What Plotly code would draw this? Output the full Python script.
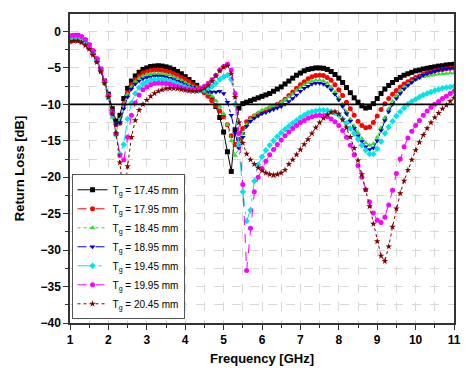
import plotly.graph_objects as go

freq = [round(1.0 + 0.1 * i, 1) for i in range(101)]

tg_labels = ["17.45", "17.95", "18.45", "18.95", "19.45", "19.95", "20.45"]

rl_1745 = [-1.0, -0.9, -0.9, -1.1, -1.5, -2.1, -2.9, -3.9, -5.2, -6.8,
           -8.6, -10.6, -12.3, -11.5, -9.2, -7.8, -6.8, -6.1, -5.6, -5.2,
           -5.0, -4.8, -4.75, -4.7, -4.75, -4.85, -5.0, -5.2, -5.5, -5.8,
           -6.2, -6.6, -7.0, -7.4, -7.8, -8.2, -8.7, -9.3, -10.3, -11.8,
           -13.8, -16.5, -19.2, -13.5, -10.5, -9.9, -9.7, -9.5, -9.3, -9.1,
           -8.9, -8.7, -8.5, -8.2, -7.9, -7.6, -7.2, -6.8, -6.4, -6.0,
           -5.7, -5.4, -5.2, -5.1, -5.0, -5.0, -5.05, -5.2, -5.5, -5.9,
           -6.4, -7.0, -7.7, -8.4, -9.1, -9.7, -10.2, -10.5, -10.4, -9.9,
           -9.2, -8.5, -7.9, -7.4, -7.0, -6.6, -6.3, -6.0, -5.8, -5.6,
           -5.4, -5.3, -5.15, -5.05, -4.95, -4.85, -4.75, -4.7, -4.6, -4.55,
           -4.5]

rl_1795 = [-1.3, -1.2, -1.2, -1.4, -1.7, -2.3, -3.1, -4.1, -5.4, -7.0,
           -8.8, -10.9, -12.8, -12.6, -10.0, -8.4, -7.3, -6.6, -6.1, -5.7,
           -5.5, -5.35, -5.3, -5.3, -5.35, -5.45, -5.6, -5.8, -6.0, -6.3,
           -6.6, -6.9, -7.3, -7.6, -8.0, -8.4, -8.9, -9.5, -10.2, -10.9,
           -11.7, -12.8, -14.3, -15.5, -14.8, -13.3, -12.4, -11.9, -11.6, -11.3,
           -11.0, -10.8, -10.5, -10.3, -10.0, -9.7, -9.3, -8.8, -8.3, -7.8,
           -7.3, -6.9, -6.5, -6.2, -6.05, -6.0, -6.05, -6.3, -6.7, -7.3,
           -8.0, -8.8, -9.7, -10.6, -11.5, -12.3, -12.9, -13.2, -13.1, -12.5,
           -11.6, -10.7, -9.9, -9.2, -8.6, -8.1, -7.6, -7.2, -6.9, -6.6,
           -6.3, -6.1, -5.9, -5.7, -5.55, -5.4, -5.3, -5.2, -5.1, -5.05,
           -5.0]

rl_1845 = [-1.0, -0.9, -0.9, -1.1, -1.5, -2.1, -2.9, -4.0, -5.4, -7.1,
           -9.2, -11.8, -13.8, -12.2, -10.0, -8.6, -7.6, -6.9, -6.4, -6.1,
           -5.9, -5.8, -5.75, -5.75, -5.8, -5.9, -6.0, -6.2, -6.4, -6.7,
           -7.0, -7.3, -7.6, -7.8, -8.0, -8.2, -8.5, -8.9, -9.5, -10.3,
           -11.3, -12.8, -15.0, -17.0, -16.0, -14.0, -12.8, -12.0, -11.5, -11.1,
           -10.8, -10.6, -10.4, -10.2, -10.0, -9.7, -9.4, -9.0, -8.6, -8.1,
           -7.7, -7.3, -7.0, -6.8, -6.7, -6.7, -6.8, -7.1, -7.6, -8.3,
           -9.1, -10.0, -11.0, -12.0, -13.0, -13.9, -14.7, -15.3, -15.6, -15.4,
           -14.5, -13.2, -11.8, -10.6, -9.6, -8.8, -8.1, -7.6, -7.2, -6.9,
           -6.6, -6.4, -6.2, -6.1, -6.0, -5.9, -5.85, -5.8, -5.75, -5.7,
           -5.7]

rl_1895 = [-0.5, -0.4, -0.4, -0.7, -1.1, -1.8, -2.7, -3.8, -5.2, -6.9,
           -8.9, -11.0, -12.7, -12.5, -10.6, -9.0, -7.9, -7.2, -6.8, -6.5,
           -6.3, -6.2, -6.1, -6.1, -6.15, -6.25, -6.4, -6.6, -6.8, -7.0,
           -7.3, -7.5, -7.7, -7.9, -8.0, -8.1, -8.2, -8.3, -8.3, -8.2,
           -8.5, -9.7, -11.5, -14.0, -16.0, -14.5, -13.0, -12.3, -11.9, -11.6,
           -11.3, -11.1, -10.9, -10.7, -10.5, -10.3, -10.0, -9.6, -9.2, -8.7,
           -8.2, -7.8, -7.5, -7.2, -7.1, -7.1, -7.2, -7.5, -8.0, -8.6,
           -9.4, -10.3, -11.3, -12.3, -13.3, -14.3, -15.1, -15.8, -16.2, -16.0,
           -15.0, -13.6, -12.2, -11.0, -10.0, -9.2, -8.5, -7.9, -7.4, -7.0,
           -6.6, -6.3, -6.0, -5.8, -5.6, -5.45, -5.3, -5.2, -5.1, -5.05,
           -5.0]

rl_1945 = [-0.8, -0.7, -0.7, -0.9, -1.3, -2.0, -2.8, -3.9, -5.3, -7.0,
           -9.0, -11.4, -14.2, -16.8, -15.5, -12.0, -9.8, -8.5, -7.7, -7.2,
           -6.9, -6.7, -6.6, -6.6, -6.6, -6.7, -6.8, -7.0, -7.2, -7.4,
           -7.6, -7.8, -7.95, -8.05, -8.1, -8.0, -7.8, -7.5, -7.1, -6.6,
           -6.2, -6.0, -6.6, -10.0, -15.5, -22.0, -26.0, -24.5, -20.5, -18.3,
           -17.2, -16.3, -15.6, -15.0, -14.4, -13.9, -13.4, -13.0, -12.6, -12.2,
           -11.8, -11.5, -11.2, -11.0, -10.9, -10.8, -10.8, -10.85, -11.0, -11.2,
           -11.5, -12.0, -12.6, -13.3, -14.0, -14.8, -15.6, -16.3, -16.8, -16.8,
           -16.1, -15.1, -14.0, -13.1, -12.3, -11.6, -11.0, -10.5, -10.0, -9.6,
           -9.3, -9.0, -8.7, -8.5, -8.3, -8.1, -7.95, -7.8, -7.7, -7.6,
           -7.55]

rl_1995 = [-0.6, -0.5, -0.5, -0.7, -1.1, -1.8, -2.6, -3.7, -5.1, -6.8,
           -8.8, -11.2, -14.0, -17.0, -17.6, -14.5, -11.5, -9.8, -8.7, -8.0,
           -7.6, -7.3, -7.15, -7.1, -7.1, -7.15, -7.25, -7.4, -7.55, -7.7,
           -7.85, -7.95, -8.0, -7.95, -7.8, -7.5, -7.1, -6.6, -6.0, -5.3,
           -4.8, -4.5, -5.3, -8.5, -14.0, -21.0, -32.8, -27.0, -22.0, -20.0,
           -18.8, -17.8, -16.9, -16.2, -15.5, -14.9, -14.3, -13.8, -13.3, -12.9,
           -12.5, -12.2, -11.9, -11.7, -11.55, -11.5, -11.55, -11.7, -12.0, -12.4,
           -12.9, -13.6, -14.5, -15.6, -16.9, -18.4, -20.0, -21.7, -23.4, -24.9,
           -25.9, -26.2, -25.5, -23.8, -21.8, -19.5, -17.5, -15.8, -14.6, -13.7,
           -12.9, -12.2, -11.5, -10.9, -10.4, -10.0, -9.6, -9.2, -8.9, -8.5,
           -8.2]

rl_2045 = [-1.4, -1.3, -1.3, -1.5, -1.9, -2.4, -3.2, -4.2, -5.5, -7.1,
           -9.0, -11.3, -14.0, -18.0, -23.2, -18.5, -14.5, -12.2, -10.8, -10.0,
           -9.4, -8.9, -8.5, -8.2, -8.0, -7.85, -7.8, -7.8, -7.85, -7.95,
           -8.05, -8.15, -8.2, -8.2, -8.1, -7.8, -7.4, -6.8, -6.1, -5.4,
           -4.9, -4.7, -5.8, -9.0, -12.5, -15.3, -16.8, -17.6, -18.2, -18.7,
           -19.1, -19.4, -19.6, -19.7, -19.6, -19.4, -19.0, -18.2, -17.6, -16.9,
           -16.2, -15.5, -14.8, -14.0, -13.2, -12.5, -11.9, -11.4, -11.1, -11.0,
           -11.3, -12.1, -13.2, -14.5, -16.0, -17.7, -19.6, -21.7, -24.0, -26.4,
           -28.8, -30.8, -31.5, -29.5, -26.8, -24.3, -22.2, -20.5, -19.0, -17.6,
           -16.3, -15.2, -14.2, -13.3, -12.5, -11.8, -11.2, -10.6, -10.1, -9.6,
           -9.1]

threshold_db = -10

series = [rl_1745, rl_1795, rl_1845, rl_1895, rl_1945, rl_1995, rl_2045]
colors = ["#000000", "#ff0000", "#33dd33", "#0000cc", "#00e5e5", "#ff00ff", "#800000"]
symbols = ["square", "circle", "triangle-up", "triangle-down", "diamond", "circle", "star"]
dashes = ["solid", "dash", "dot", "dashdot", "longdashdot", "dash", "dot"]

fig = go.Figure()
for lab, ys, c, s, d in zip(tg_labels, series, colors, symbols, dashes):
    fig.add_trace(go.Scatter(
        x=freq, y=ys, mode="lines+markers",
        name=f"T<sub>g</sub> = {lab} mm",
        line=dict(color=c, width=1, dash=d),
        marker=dict(symbol=s, size=5, color=c, line=dict(width=0)),
    ))

fig.add_hline(y=threshold_db, line=dict(color="black", width=1.6))

FONT = "Liberation Sans, Arial, sans-serif"
fig.update_xaxes(
    range=[1, 11], tick0=1, dtick=1,
    showline=True, linecolor="#333", linewidth=1.5, mirror=True,
    ticks="outside", ticklen=5, tickwidth=1.2, tickcolor="#333",
    showgrid=True, gridcolor="#d8d8d8", griddash="dash", gridwidth=1,
    minor=dict(dtick=0.5, ticks="outside", ticklen=3, tickcolor="#333",
               showgrid=True, gridcolor="#d8d8d8", griddash="dash"),
    zeroline=False,
    tickfont=dict(family=FONT, size=12, color="black", weight="bold"),
    title=dict(text="<b>Frequency [GHz]</b>", font=dict(family=FONT, size=13, color="black"), standoff=8),
)
fig.update_yaxes(
    range=[-40, 2.4], tick0=0, dtick=5,
    showline=True, linecolor="#333", linewidth=1.5, mirror=True,
    ticks="outside", ticklen=5, tickwidth=1.2, tickcolor="#333",
    showgrid=True, gridcolor="#d8d8d8", griddash="dash", gridwidth=1,
    minor=dict(dtick=2.5, ticks="outside", ticklen=3, tickcolor="#333",
               showgrid=True, gridcolor="#d8d8d8", griddash="dash"),
    zeroline=False,
    tickfont=dict(family=FONT, size=12, color="black", weight="bold"),
    title=dict(text="<b>Return Loss [dB]</b>", font=dict(family=FONT, size=13, color="black"), standoff=13),
)

fig.update_layout(
    width=474, height=376,
    margin=dict(l=62, r=28, t=4, b=61),
    plot_bgcolor="white", paper_bgcolor="white",
    showlegend=True,
    legend=dict(
        x=0.004, y=0.012, xanchor="left", yanchor="bottom",
        bgcolor="white", bordercolor="#555", borderwidth=1,
        font=dict(family=FONT, size=10, color="black"),
        tracegroupgap=0, itemwidth=30,
    ),
)

fig.write_html("out.html")
